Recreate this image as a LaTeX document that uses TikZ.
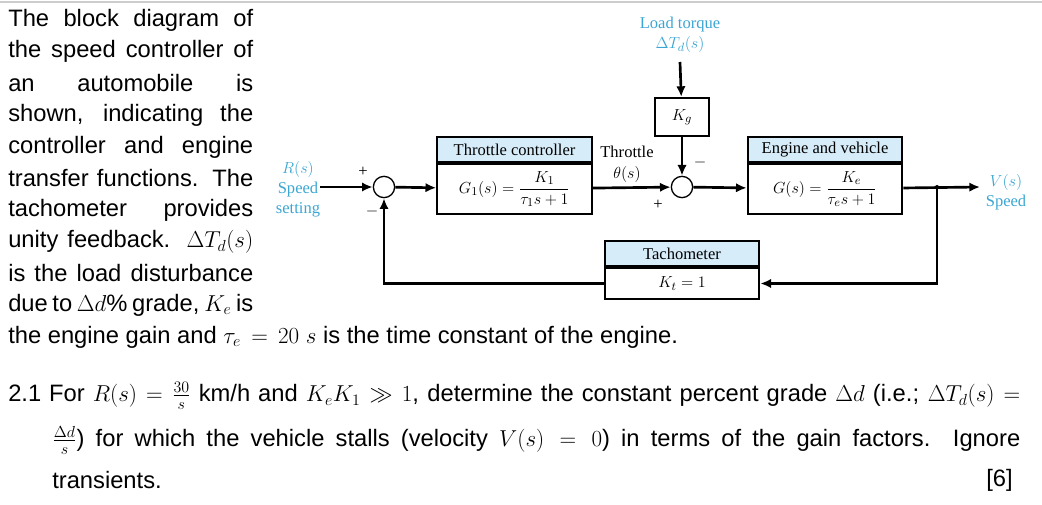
\documentclass[tikz,border=0pt]{standalone}
\usepackage{amsmath}
\usepackage{fontspec}
\setmainfont{Liberation Sans}
\newfontfamily\diagfont{Liberation Serif}
\usetikzlibrary{positioning,arrows.meta}
\definecolor{labcyan}{HTML}{3BA6D3}
\definecolor{headblue}{HTML}{D6ECF8}
\tikzset{
    every node/.style={inner sep=0pt},
    txt/.style={anchor=west, font=\fontsize{17.8}{20}\selectfont},
    headbox/.style={draw, fill=headblue, line width=1.5pt, minimum width=116pt, minimum height=18.75pt, font=\diagfont\fontsize{12.4}{14}\selectfont},
    bodybox/.style={draw, line width=1.5pt, minimum width=116pt, font=\diagfont\fontsize{12.4}{14}\selectfont},
    sumnode/.style={draw, circle, line width=1pt, minimum size=16pt},
    lab/.style={font=\diagfont\fontsize{12.4}{14}\selectfont, align=center},
    cyanlab/.style={lab, text=labcyan},
    arrow/.style={-{Latex[length=8pt,width=7pt]}, line width=2pt},
}
\newcommand\jl[1]{\makebox[183.75pt][s]{#1}}
\begin{document}
\begin{tikzpicture}[x=0.75pt,y=-0.75pt]
\useasboundingbox (0,0) rectangle (1042,505);
\draw[gray!40, line width=1pt] (0,2) -- (1042,2);

% left paragraph
\foreach \y/\t in {20/The block diagram of, 51/the speed controller of, 83/an automobile is,
                   115/{shown, indicating the}, 147/controller and engine, 178/transfer functions. The,
                   210/tachometer provides, 242/unity feedback. $\Delta T_d(s)$,
                   273/is the load disturbance, 305/due to $\Delta d$\% grade{,} $K_e$ is}{
  \node[txt] at (8,\y) {\jl{\t}};
}
\node[txt] (lastline) at (8,337) {the engine gain and $\tau_e\,=\,20\ s$ is the time constant of the engine.};

% question
\node[txt] (q1) at (8,396) {\makebox[759pt][s]{2.1 For $R(s)=\frac{30}{s}$ km/h and $K_eK_1\gg1$, determine the constant percent grade $\Delta d$ (i.e.; $\Delta T_d(s)=$}};
\node[txt] (q2) at (52,440) {\makebox[726pt][s]{$\frac{\Delta d}{s}$) for which the vehicle stalls (velocity $V(s)=0$) in terms of the gain factors. Ignore}};
\node[txt] (q3) at (52,480) {transients.};
\node[txt, anchor=east] (mark) at (1013,480) {[6]};

% blocks
\node[headbox] (thead) at (514.5,149.5) {Throttle controller};
\node[bodybox, minimum height=37.5pt, below=0pt of thead] (tbody) {$G_1(s)=\dfrac{K_1}{\tau_1 s+1}$};
\node[headbox] (ehead) at (825,149.5) {Engine and vehicle};
\node[bodybox, minimum height=37.5pt, below=0pt of ehead] (ebody) {$G(s)=\dfrac{K_e}{\tau_e s+1}$};
\node[headbox] (khead) at (682,253.5) {Tachometer};
\node[bodybox, minimum height=23.25pt, below=0pt of khead] (kbody) {$K_t=1$};
\node[bodybox, minimum width=41pt, minimum height=28.5pt] (kg) at (682,117) {$K_g$};
\node[sumnode] (sum1) at (384,187) {};
\node[sumnode] (sum2) at (682,187) {};

% labels
\node[cyanlab] (load) at (680,35) {Load torque\\[1pt]$\Delta T_d(s)$};
\node[cyanlab] (ref) at (298,189) {$R(s)$\\[1pt]Speed\\[1pt]setting};
\node[cyanlab] (vout) at (1006,192) {$V(s)$\\[1pt]Speed};
\node[lab] (thr) at (627,164) {Throttle\\[2pt]$\theta(s)$};
\node[lab] at (363,172) {+};
\node[lab] at (372,212) {$-$};
\node[lab] at (700,163) {$-$};
\node[lab] at (658,205) {+};

% connectors
\coordinate (brk) at (937,187);
\coordinate (outend) at (980,187);
\draw[arrow] (load.south |- 0,62) -- (kg);
\draw[arrow] (kg) -- (sum2);
\draw[arrow] (ref.east |- sum1) -- (sum1);
\draw[arrow] (sum1) -- (tbody);
\draw[arrow] (tbody) -- (sum2);
\draw[arrow] (sum2) -- (ebody);
\draw[arrow] (ebody) -- (outend);
\draw[arrow] (brk) |- (kbody);
\draw[arrow] (kbody) -| (sum1);
\fill (brk) circle (2);
\end{tikzpicture}
\end{document}
